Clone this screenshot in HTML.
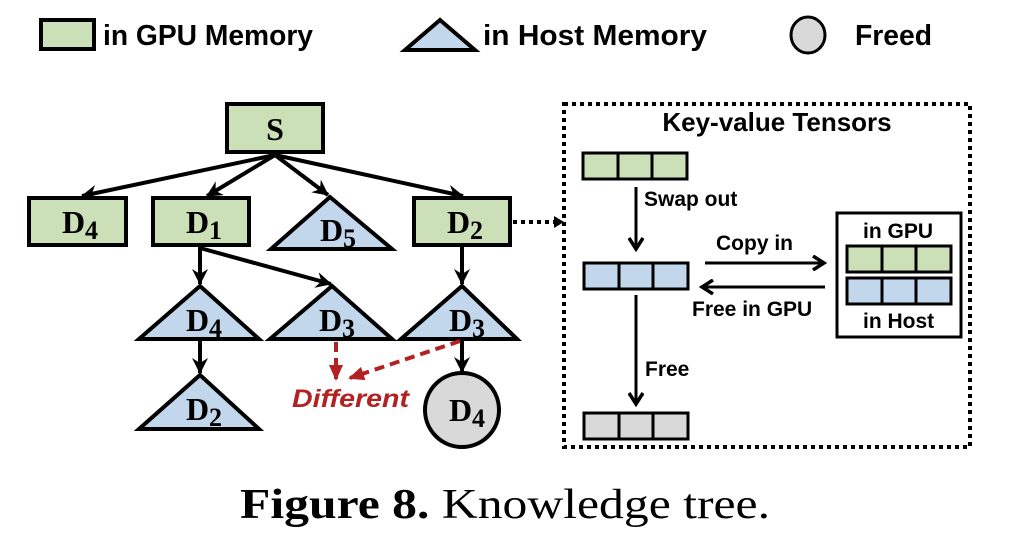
<!DOCTYPE html>
<html><head><meta charset="utf-8"><style>
html,body{margin:0;padding:0;background:#fff;}
svg{display:block;}
.s{font-family:"Liberation Sans",sans-serif;font-weight:bold;}
.n{font-family:"Liberation Serif",serif;font-weight:bold;}
</style></head><body>
<svg width="1026" height="540" viewBox="0 0 1026 540" xmlns="http://www.w3.org/2000/svg">
<defs>
<marker id="ah" markerWidth="18" markerHeight="16" refX="15" refY="8" orient="auto" markerUnits="userSpaceOnUse"><path d="M0,0 L16,8 L0,16 L5,8 Z" fill="#000"/></marker>
<marker id="oa" markerWidth="16" markerHeight="16" refX="13" refY="8" orient="auto" markerUnits="userSpaceOnUse"><path d="M2,1 L13,8 L2,15" fill="none" stroke="#000" stroke-width="3.5"/></marker>
<marker id="ra" markerWidth="16" markerHeight="14" refX="14" refY="7" orient="auto" markerUnits="userSpaceOnUse"><path d="M0,0 L16,7 L0,14 Z" fill="#b22222"/></marker>
</defs>
<!-- legend -->
<rect x="41" y="20" width="53" height="29" fill="#cce0b8" stroke="#000" stroke-width="4"/>
<text class="s" x="103" y="45" font-size="29" textLength="210" lengthAdjust="spacingAndGlyphs">in GPU Memory</text>
<polygon points="440,20 475,50 405,50" fill="#c2d6ec" stroke="#000" stroke-width="4"/>
<text class="s" x="483" y="45" font-size="29" textLength="224" lengthAdjust="spacingAndGlyphs">in Host Memory</text>
<ellipse cx="808" cy="35" rx="17" ry="18" fill="#d9d9d9" stroke="#000" stroke-width="3"/>
<text class="s" x="855" y="45" font-size="29" textLength="77" lengthAdjust="spacingAndGlyphs">Freed</text>

<!-- tree edges -->
<g stroke="#000" stroke-width="4" fill="none" marker-end="url(#ah)">
<line x1="275" y1="155" x2="82" y2="196"/>
<line x1="275" y1="155" x2="207" y2="196"/>
<line x1="275" y1="155" x2="328" y2="195"/>
<line x1="275" y1="155" x2="463" y2="196"/>
<line x1="200" y1="247" x2="200" y2="284"/>
<line x1="200" y1="248" x2="331" y2="284"/>
<line x1="462" y1="246" x2="462" y2="284"/>
<line x1="200" y1="340" x2="200" y2="373"/>
<line x1="462" y1="340" x2="462" y2="372"/>
</g>
<!-- nodes -->
<g stroke="#000" stroke-width="4">
<rect x="227" y="104" width="96" height="48" fill="#cce0b8"/>
<rect x="29" y="198" width="97" height="47" fill="#cce0b8"/>
<rect x="153" y="198" width="96" height="47" fill="#cce0b8"/>
<rect x="414" y="198" width="96" height="47" fill="#cce0b8"/>
<polygon points="330,197 392,249 271,249" fill="#c2d6ec"/>
<polygon points="200,286 259,339 139,339" fill="#c2d6ec"/>
<polygon points="332,286 392,339 270,339" fill="#c2d6ec"/>
<polygon points="462,286 517,339 401,339" fill="#c2d6ec"/>
<polygon points="200,375 259,429 139,429" fill="#c2d6ec"/>
<circle cx="462" cy="410" r="37" fill="#d9d9d9"/>
</g>
<g class="n" font-size="32" text-anchor="middle">
<text x="275" y="140">S</text>
<text x="80" y="233">D<tspan font-size="26" dy="6">4</tspan></text>
<text x="204" y="233">D<tspan font-size="26" dy="6">1</tspan></text>
<text x="338" y="241">D<tspan font-size="26" dy="6">5</tspan></text>
<text x="465" y="233">D<tspan font-size="26" dy="6">2</tspan></text>
<text x="204" y="331">D<tspan font-size="26" dy="6">4</tspan></text>
<text x="337" y="331">D<tspan font-size="26" dy="6">3</tspan></text>
<text x="467" y="331">D<tspan font-size="26" dy="6">3</tspan></text>
<text x="204" y="420">D<tspan font-size="26" dy="6">2</tspan></text>
<text x="467" y="421">D<tspan font-size="26" dy="6">4</tspan></text>
</g>
<!-- red dashed -->
<g stroke="#b22222" stroke-width="4" stroke-dasharray="10,6" fill="none" marker-end="url(#ra)">
<line x1="336" y1="342" x2="336" y2="379"/>
<line x1="460" y1="341" x2="350" y2="378"/>
</g>
<text class="s" x="292" y="407" font-size="25" font-style="italic" fill="#b22222" textLength="117" lengthAdjust="spacingAndGlyphs">Different</text>

<!-- dotted connector -->
<line x1="513" y1="222" x2="555" y2="222" stroke="#000" stroke-width="4" stroke-dasharray="4,4"/>
<path d="M554,216 L564,222 L554,228 Z" fill="#000"/>
<!-- dotted box -->
<rect x="564" y="104" width="406" height="343" fill="none" stroke="#000" stroke-width="4" stroke-dasharray="4,4"/>
<text class="s" x="777" y="131" font-size="26" text-anchor="middle">Key-value Tensors</text>

<g stroke="#000" stroke-width="3">
<g fill="#cce0b8"><rect x="583" y="153" width="35" height="26"/><rect x="618" y="153" width="34" height="26"/><rect x="652" y="153" width="35" height="26"/></g>
<g fill="#c2d6ec"><rect x="584" y="263" width="35" height="26"/><rect x="619" y="263" width="34" height="26"/><rect x="653" y="263" width="35" height="26"/></g>
<g fill="#d9d9d9"><rect x="584" y="413" width="35" height="26"/><rect x="619" y="413" width="34" height="26"/><rect x="653" y="413" width="35" height="26"/></g>
<rect x="837" y="213" width="124" height="124" fill="none"/>
<g fill="#cce0b8"><rect x="847" y="246" width="35" height="26"/><rect x="882" y="246" width="34" height="26"/><rect x="916" y="246" width="35" height="26"/></g>
<g fill="#c2d6ec"><rect x="847" y="278" width="35" height="26"/><rect x="882" y="278" width="34" height="26"/><rect x="916" y="278" width="35" height="26"/></g>
</g>
<g stroke="#000" stroke-width="3" fill="none" marker-end="url(#oa)">
<line x1="636" y1="187" x2="636" y2="249"/>
<line x1="636" y1="295" x2="636" y2="404"/>
<line x1="705" y1="263" x2="824" y2="263"/>
<line x1="825" y1="287" x2="702" y2="287"/>
</g>
<g class="s" font-size="21">
<text x="644" y="206">Swap out</text>
<text x="716" y="250">Copy in</text>
<text x="692" y="316">Free in GPU</text>
<text x="645" y="376">Free</text>
<text x="863" y="238">in GPU</text>
<text x="863" y="328">in Host</text>
</g>

<!-- caption -->
<text x="240" y="518" font-family="Liberation Serif,serif" font-size="42" textLength="530" lengthAdjust="spacingAndGlyphs"><tspan font-weight="bold">Figure 8.</tspan> Knowledge tree.</text>
</svg>
</body></html>
